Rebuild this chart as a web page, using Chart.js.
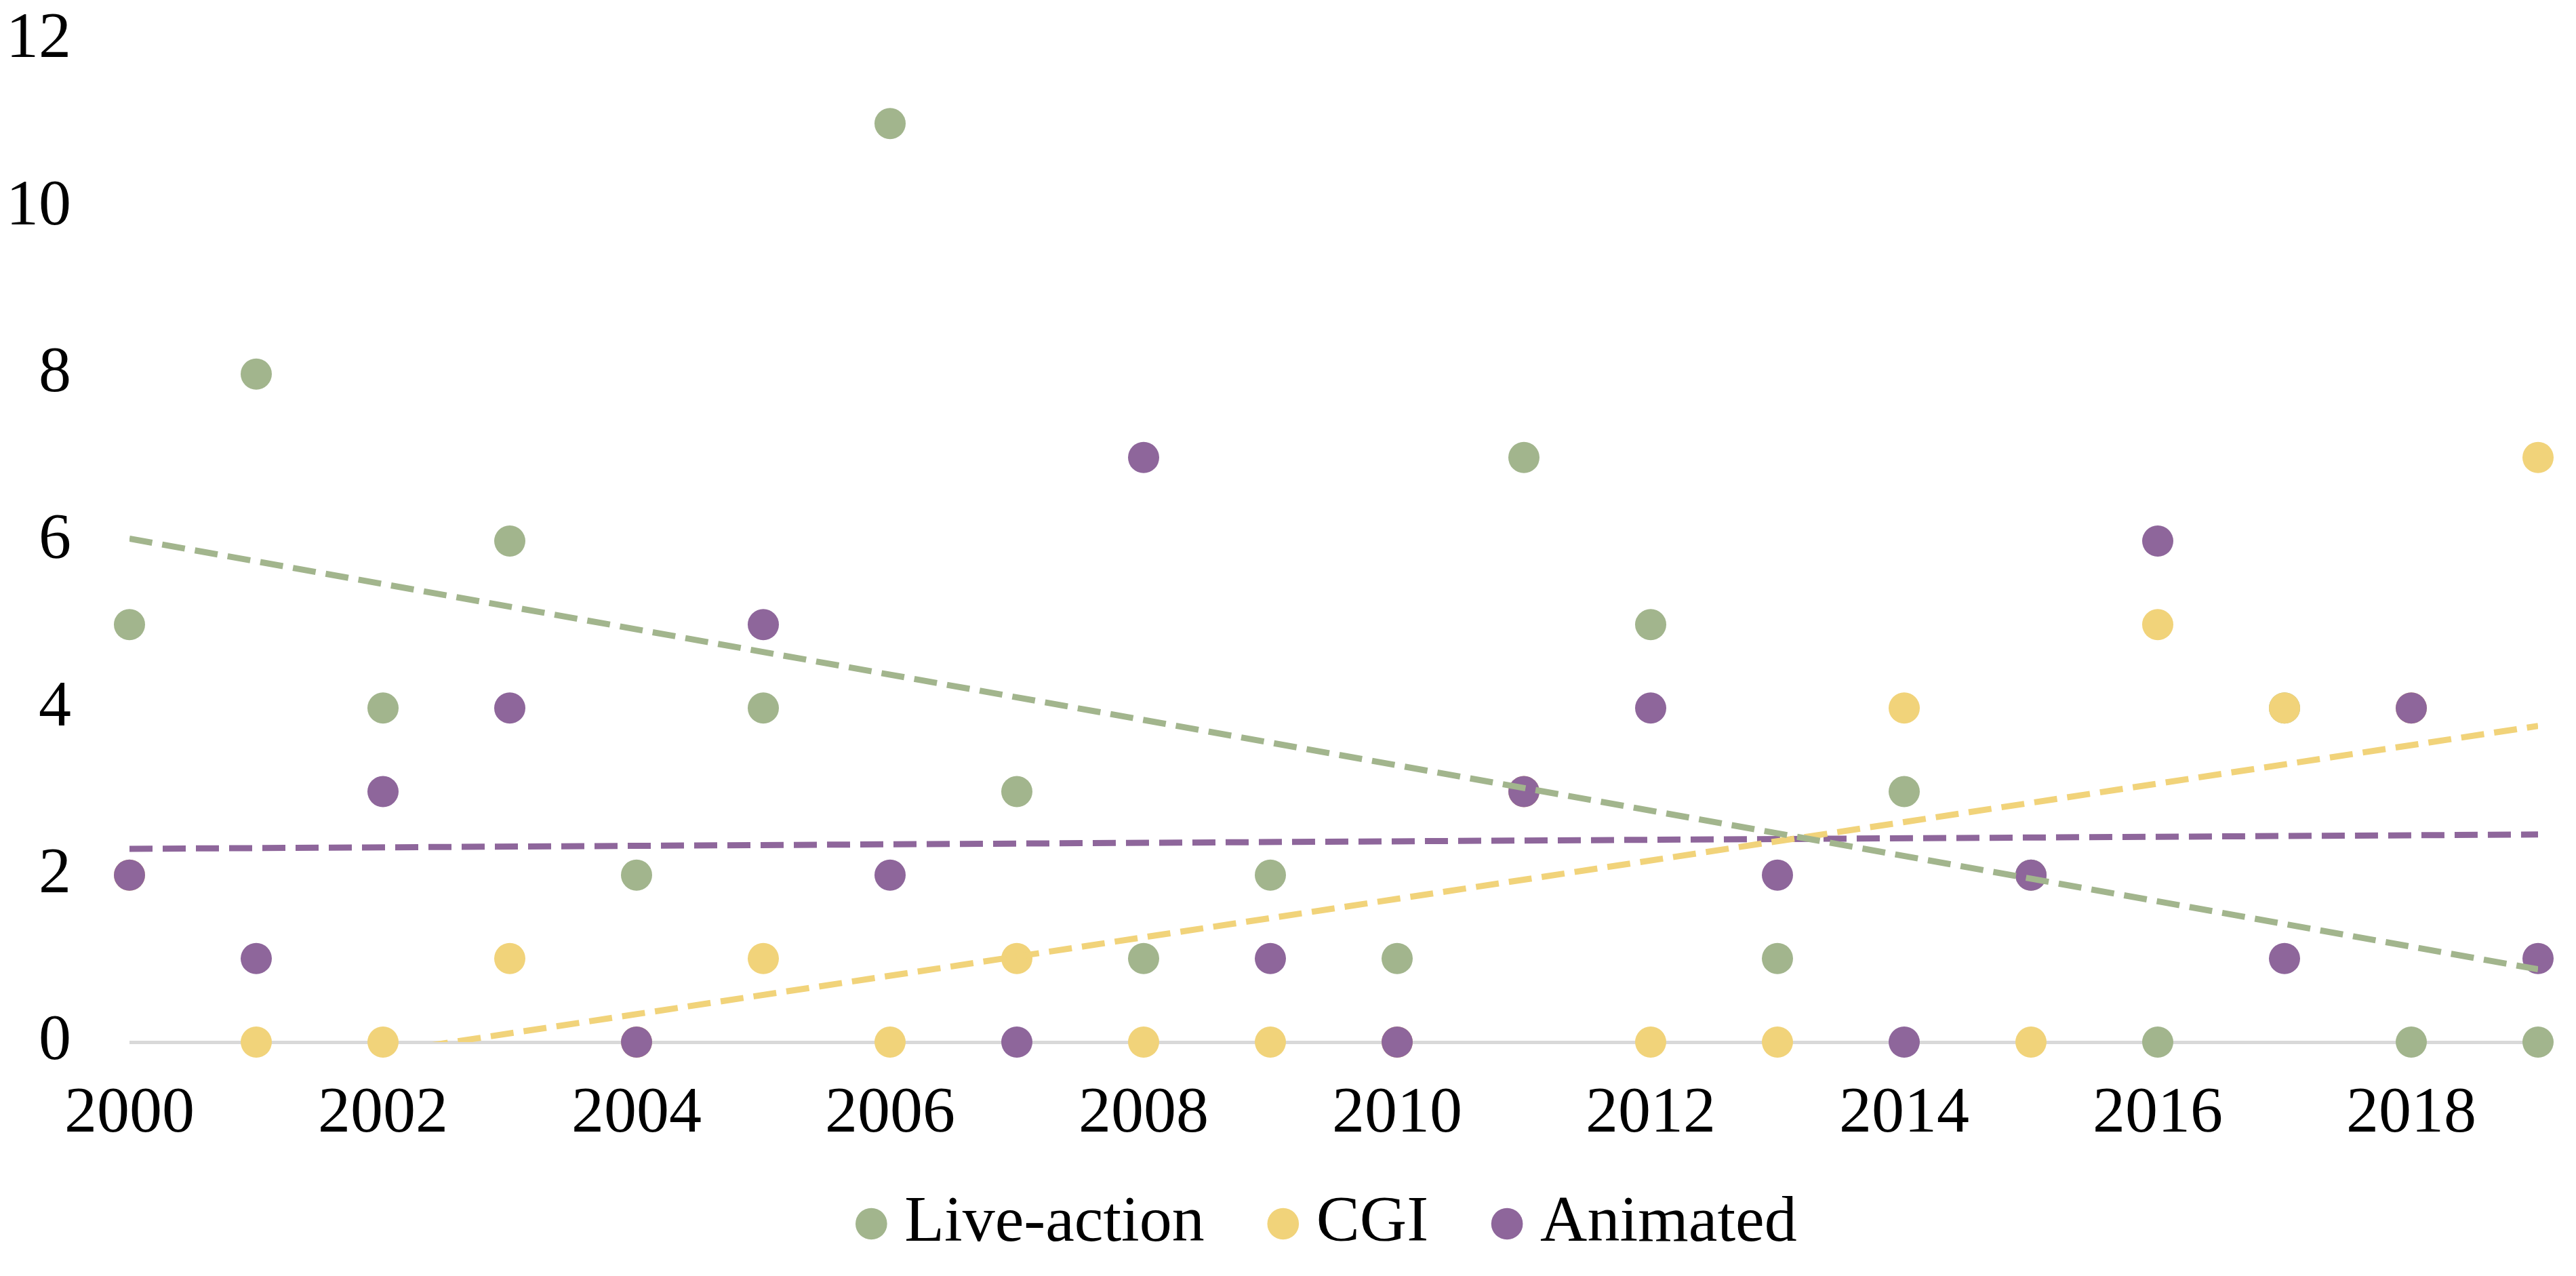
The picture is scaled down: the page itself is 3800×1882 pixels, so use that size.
<!DOCTYPE html>
<html>
<head>
<meta charset="utf-8">
<script src="https://cdn.jsdelivr.net/npm/chart.js@4.4.1/dist/chart.umd.min.js"></script>
<style>
  html, body { margin: 0; padding: 0; background: #fff; }
  #wrap { width: 3800px; height: 1882px; }
</style>
</head>
<body>
<div id="wrap"><canvas id="chart" width="3800" height="1882"></canvas></div>
<script>
// years on the x axis
const years = [2000, 2001, 2002, 2003, 2004, 2005, 2006, 2007, 2008, 2009,
               2010, 2011, 2012, 2013, 2014, 2015, 2016, 2017, 2018, 2019];

const liveAction = [5, 8, 4, 6, 2, 4, 11, 3, 1, 2, 1, 7, 5, 1, 3, 2, 0, 4, 0, 0];
const cgi        = [2, 0, 0, 1, 0, 1, 0, 1, 0, 0, 0, 3, 0, 0, 4, 0, 5, 4, 4, 7];
const animated   = [2, 1, 3, 4, 0, 5, 2, 0, 7, 1, 0, 3, 4, 2, 0, 2, 6, 1, 4, 1];

const seriesNames = ['Live-action', 'CGI', 'Animated'];
const colours = ['#A2B58D', '#F1D37A', '#8E669B'];

const xTicks = [2000, 2002, 2004, 2006, 2008, 2010, 2012, 2014, 2016, 2018];
const yTicks = [0, 2, 4, 6, 8, 10, 12];

const FONT = 'Liberation Serif, Times New Roman, serif';
const CLEAR = 'rgba(0,0,0,0)';

function points(vals) {
    return vals.map((v, i) => ({ x: years[i], y: v }));
}

// least squares line, evaluated at the ends of the year range
function trend(vals) {
    const n = vals.length;
    const mx = years.reduce((a, b) => a + b, 0) / n;
    const my = vals.reduce((a, b) => a + b, 0) / n;
    let sxy = 0, sxx = 0;
    for (let i = 0; i < n; i++) {
        sxy += (years[i] - mx) * (vals[i] - my);
        sxx += (years[i] - mx) * (years[i] - mx);
    }
    const slope = sxy / sxx;
    const x0 = years[0], x1 = years[n - 1];
    return [
        { x: x0, y: my + slope * (x0 - mx) },
        { x: x1, y: my + slope * (x1 - mx) }
    ];
}

const allSeries = [liveAction, cgi, animated];

const datasets = [];
allSeries.forEach((vals, i) => {
    datasets.push({
        type: 'scatter',
        label: seriesNames[i],
        data: points(vals),
        backgroundColor: colours[i],
        borderColor: colours[i],
        pointBackgroundColor: colours[i],
        pointBorderWidth: 0,
        borderWidth: 0,
        pointRadius: 23,
        pointHoverRadius: 23,
        pointStyle: 'circle',
        clip: false,
        order: 3 - i
    });
});
// dashed linear trend lines, drawn over the markers
allSeries.forEach((vals, i) => {
    datasets.push({
        type: 'line',
        label: seriesNames[i] + ' trend',
        data: trend(vals),
        borderColor: colours[i],
        borderWidth: 9,
        borderDash: [34, 15],
        borderCapStyle: 'butt',
        pointRadius: 0,
        fill: false,
        clip: 0,
        order: 0
    });
});

var ctx = document.getElementById('chart').getContext('2d');
var chart = new Chart(ctx, {
    type: 'scatter',
    data: { datasets: datasets },
    options: {
        responsive: false,
        devicePixelRatio: 1,
        animation: false,
        events: [],
        layout: {
            padding: { left: 0, right: 56, top: 59, bottom: 19 }
        },
        scales: {
            x: {
                type: 'linear',
                min: 2000,
                max: 2019,
                afterBuildTicks: (scale) => {
                    scale.ticks = xTicks.map(v => ({ value: v }));
                },
                afterFit: (scale) => { scale.height = 105; },
                grid: { display: false, drawTicks: false },
                border: { display: false },
                ticks: {
                    // mirrored so the labels are not clipped to the short axis box
                    padding: -164,
                    mirror: true,
                    color: '#000',
                    maxRotation: 0,
                    autoSkip: false,
                    font: { family: FONT, size: 96 },
                    callback: (v) => String(v)
                }
            },
            y: {
                min: 0,
                max: 12,
                afterBuildTicks: (scale) => {
                    scale.ticks = yTicks.map(v => ({ value: v }));
                },
                afterFit: (scale) => { scale.width = 191; },
                grid: {
                    drawTicks: true,
                    tickLength: 86,
                    tickColor: CLEAR,
                    lineWidth: 5,
                    color: (c) => (c.tick && c.tick.value === 0) ? '#D9D9D9' : CLEAR
                },
                border: { display: false },
                ticks: {
                    padding: 0,
                    color: '#000',
                    font: { family: FONT, size: 96 }
                }
            }
        },
        plugins: {
            tooltip: { enabled: false },
            legend: {
                position: 'bottom',
                fullSize: false,
                labels: {
                    usePointStyle: true,
                    pointStyle: 'circle',
                    boxHeight: 33,
                    boxWidth: 2,
                    padding: 115,
                    color: '#000',
                    font: { family: FONT, size: 96 },
                    filter: (item) => item.datasetIndex < 3,
                    sort: (a, b) => a.datasetIndex - b.datasetIndex
                }
            }
        }
    }
});
</script>
</body>
</html>
